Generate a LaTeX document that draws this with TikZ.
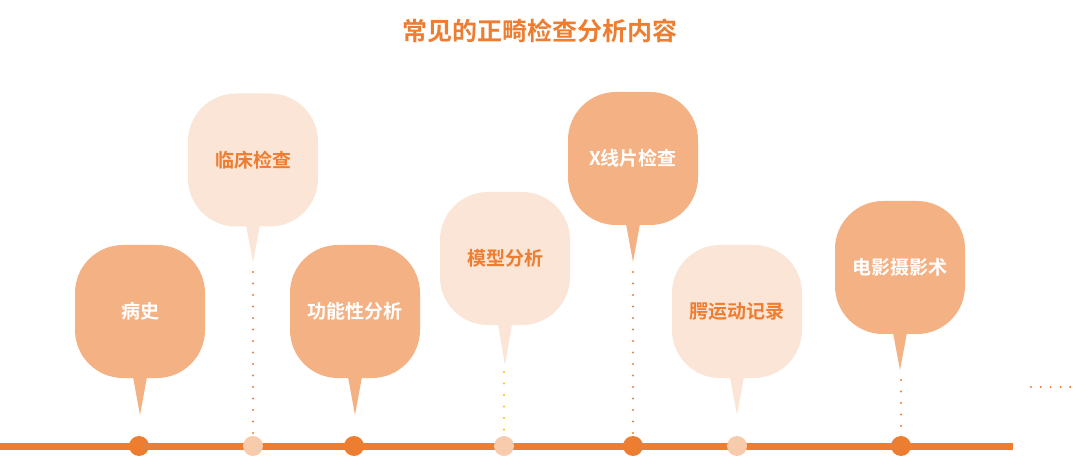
\documentclass[tikz,border=0pt]{standalone}
\usepackage{fontspec}
\newfontfamily\cjk{Noto Sans CJK SC Bold}
\definecolor{dk}{HTML}{F4B183}
\definecolor{lt}{HTML}{FBE5D6}
\definecolor{ln}{HTML}{ED7D31}
\definecolor{ldot}{HTML}{F8CBAD}
\definecolor{yl}{HTML}{FFC000}
\tikzset{
 bub/.style={rounded corners=48pt,minimum width=130pt,minimum height=133pt,inner sep=0pt,font=\cjk\fontsize{19}{22}\selectfont},
 dkb/.style={bub,fill=dk,text=white},
 ltb/.style={bub,fill=lt,text=ln},
 dotline/.style={ln,line width=2.2pt,line cap=round,dash pattern=on 0pt off 11.5pt},
}
\newcommand{\bubble}[5]{% name, style, cx, cy(top-center), tail y, text
 \node[#2] (#1) at (#3,#4) {#5};}
\begin{document}
\begin{tikzpicture}[x=1pt,y=-1pt]
\useasboundingbox (0,0) rectangle (1080,457);
\node[font=\cjk\fontsize{25}{28}\selectfont,text=ln] (title) at (540,31) {常见的正畸检查分析内容};
\draw[ln,line width=7pt] (0,446) -- (1013,446);
% bubbles
\foreach \n/\s/\x/\y/\t/\c/\lab in {
 b1/dkb/140/311.5/415/dk/病史,
 b2/ltb/253/160/262/lt/临床检查,
 b3/dkb/355/311.5/415/dk/功能性分析,
 b4/ltb/505/258.5/365/lt/模型分析,
 b5/dkb/633/158.5/262/dk/X线片检查,
 b6/ltb/737/311.5/415/lt/腭运动记录,
 b7/dkb/900/267.5/370/dk/电影摄影术}{
 \fill[\c] (\x-8,\y+60) -- (\x+8,\y+60) -- (\x,\t) -- cycle;
 \node[\s] (\n) at (\x,\y) {\lab};
}
% dotted connectors
\coordinate (d2a) at (253,272); \coordinate (d2b) at (253,436);
\coordinate (d4a) at (504,372); \coordinate (d4b) at (504,436);
\coordinate (d5a) at (633,272); \coordinate (d5b) at (633,436);
\coordinate (d7a) at (901,380); \coordinate (d7b) at (901,436);
\draw[dotline] (d2a) -- (d2b);
\draw[dotline,yl] (d4a) -- (d4b);
\draw[dotline] (d5a) -- (d5b);
\draw[dotline] (d7a) -- (d7b);
\coordinate (e1) at (1031,387); \coordinate (e2) at (1076,387);
\draw[ln,line width=2.2pt,line cap=round,dash pattern=on 0pt off 9.8pt] (e1) -- (e2);
% dots on timeline
\foreach \x/\c [count=\i] in {139/ln,253/ldot,354/ln,504/ldot,633/ln,737/ldot,901/ln}
 \fill[\c] (\x,446) circle (10pt);
\end{tikzpicture}
\end{document}
